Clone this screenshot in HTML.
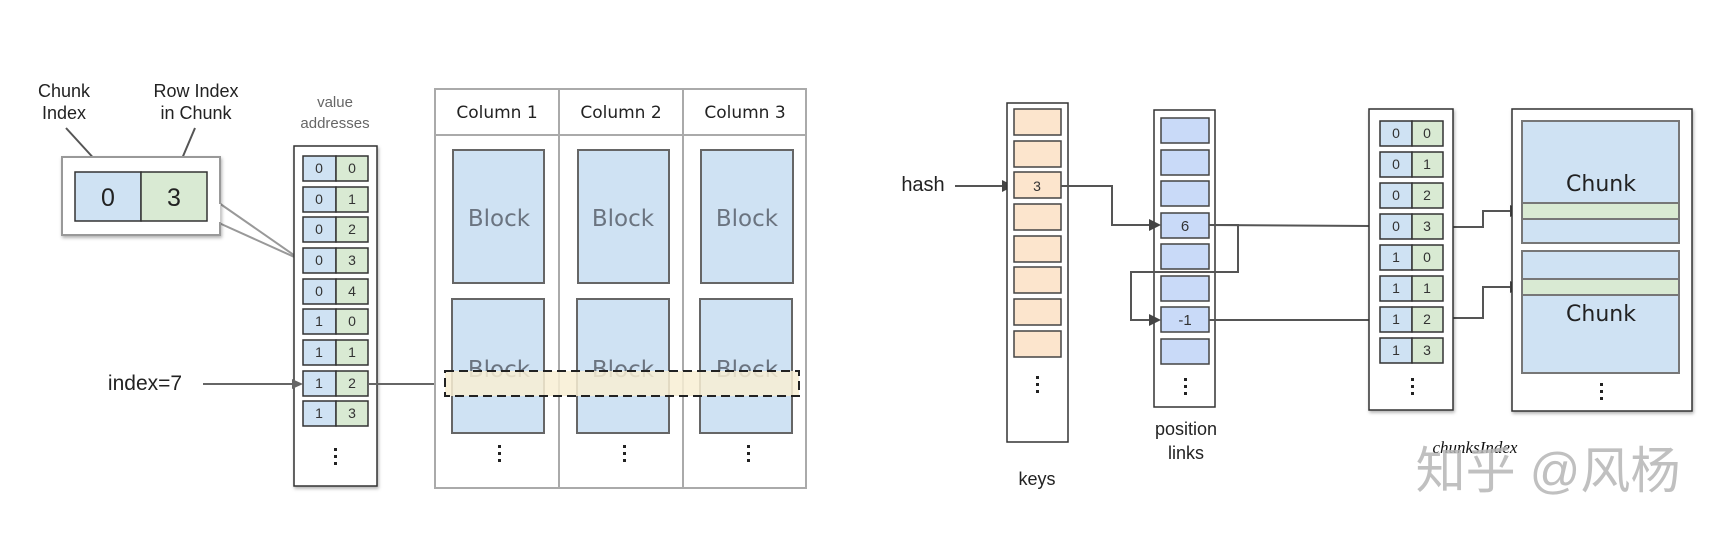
<!DOCTYPE html>
<html><head><meta charset="utf-8"><style>
html,body{margin:0;padding:0;background:#fff;}
svg{display:block;}
text{font-family:"Liberation Sans",Arial,sans-serif;}
</style></head><body>
<svg width="1728" height="538" viewBox="0 0 1728 538" xmlns="http://www.w3.org/2000/svg">
<defs>
<filter id="sh" x="-10%" y="-10%" width="130%" height="130%"><feDropShadow dx="1" dy="2" stdDeviation="1.5" flood-color="#000" flood-opacity="0.3"/></filter>
</defs>

<!-- LEFT DIAGRAM -->
<text x="64" y="97" font-size="18" text-anchor="middle" fill="#222">Chunk</text>
<text x="64" y="119" font-size="18" text-anchor="middle" fill="#222">Index</text>
<text x="196" y="97" font-size="18" text-anchor="middle" fill="#222">Row Index</text>
<text x="196" y="119" font-size="18" text-anchor="middle" fill="#222">in Chunk</text>
<line x1="66" y1="128" x2="98" y2="163" stroke="#555" stroke-width="2"/>
<polygon points="104,170 93.6,166 101,159.3" fill="#555"/>
<line x1="195" y1="128" x2="181" y2="161" stroke="#555" stroke-width="2"/>
<polygon points="177,170 176.3,158.9 185.5,162.8" fill="#555"/>

<polygon points="219,203 301,260 219,223" fill="#fff" stroke="#999" stroke-width="2"/>
<rect x="62" y="157" width="158" height="78" fill="#fff" stroke="#999" stroke-width="2" filter="url(#sh)"/>
<line x1="219" y1="204" x2="219" y2="222" stroke="#fff" stroke-width="3"/>
<rect x="75" y="172" width="66" height="49" fill="#cfe2f3" stroke="#333" stroke-width="1.5"/>
<rect x="141" y="172" width="66" height="49" fill="#d9ead3" stroke="#333" stroke-width="1.5"/>
<text x="108" y="206" font-size="25" text-anchor="middle" fill="#222">0</text>
<text x="174" y="206" font-size="25" text-anchor="middle" fill="#222">3</text>

<text x="335" y="107" font-size="15" text-anchor="middle" fill="#666">value</text>
<text x="335" y="128" font-size="15" text-anchor="middle" fill="#666">addresses</text>
<rect x="294" y="146" width="83" height="340" fill="#fff" stroke="#333" stroke-width="1.5" filter="url(#sh)"/>
<g font-size="14" text-anchor="middle" fill="#333">
<g stroke="#333" stroke-width="1.5">
<rect x="303" y="156" width="33" height="25" fill="#cfe2f3"/><rect x="336" y="156" width="32" height="25" fill="#d9ead3"/>
<rect x="303" y="187" width="33" height="25" fill="#cfe2f3"/><rect x="336" y="187" width="32" height="25" fill="#d9ead3"/>
<rect x="303" y="217" width="33" height="25" fill="#cfe2f3"/><rect x="336" y="217" width="32" height="25" fill="#d9ead3"/>
<rect x="303" y="248" width="33" height="25" fill="#cfe2f3"/><rect x="336" y="248" width="32" height="25" fill="#d9ead3"/>
<rect x="303" y="279" width="33" height="25" fill="#cfe2f3"/><rect x="336" y="279" width="32" height="25" fill="#d9ead3"/>
<rect x="303" y="309" width="33" height="25" fill="#cfe2f3"/><rect x="336" y="309" width="32" height="25" fill="#d9ead3"/>
<rect x="303" y="340" width="33" height="25" fill="#cfe2f3"/><rect x="336" y="340" width="32" height="25" fill="#d9ead3"/>
<rect x="303" y="371" width="33" height="25" fill="#cfe2f3"/><rect x="336" y="371" width="32" height="25" fill="#d9ead3"/>
<rect x="303" y="401" width="33" height="25" fill="#cfe2f3"/><rect x="336" y="401" width="32" height="25" fill="#d9ead3"/>
</g>
<text x="319" y="173">0</text><text x="352" y="173">0</text>
<text x="319" y="204">0</text><text x="352" y="204">1</text>
<text x="319" y="234">0</text><text x="352" y="234">2</text>
<text x="319" y="265">0</text><text x="352" y="265">3</text>
<text x="319" y="296">0</text><text x="352" y="296">4</text>
<text x="319" y="326">1</text><text x="352" y="326">0</text>
<text x="319" y="357">1</text><text x="352" y="357">1</text>
<text x="319" y="388">1</text><text x="352" y="388">2</text>
<text x="319" y="418">1</text><text x="352" y="418">3</text>
</g>
<g fill="#222"><rect x="334" y="448" width="3" height="3"/><rect x="334" y="455" width="3" height="3"/><rect x="334" y="462" width="3" height="3"/></g>

<text x="145" y="390" font-size="21" text-anchor="middle" fill="#222">index=7</text>
<line x1="203" y1="384" x2="293" y2="384" stroke="#666" stroke-width="2"/>
<polygon points="303,384 292,379 292,389" fill="#666"/>
<line x1="368" y1="384" x2="435" y2="384" stroke="#666" stroke-width="2"/>
<polygon points="446,384 435,379 435,389" fill="#666"/>

<!-- table -->
<rect x="435" y="89" width="371" height="399" fill="#fff" stroke="#aaa" stroke-width="2"/>
<line x1="435" y1="135" x2="806" y2="135" stroke="#aaa" stroke-width="2"/>
<line x1="559" y1="89" x2="559" y2="488" stroke="#aaa" stroke-width="2"/>
<line x1="683" y1="89" x2="683" y2="488" stroke="#aaa" stroke-width="2"/>
<g font-size="17" text-anchor="middle" fill="#222">
<text x="497" y="118" style="font-family:'DejaVu Sans',sans-serif">Column 1</text>
<text x="621" y="118" style="font-family:'DejaVu Sans',sans-serif">Column 2</text>
<text x="745" y="118" style="font-family:'DejaVu Sans',sans-serif">Column 3</text>
</g>
<g fill="#cfe2f3" stroke="#666" stroke-width="2">
<rect x="453" y="150" width="91" height="133"/><rect x="578" y="150" width="91" height="133"/><rect x="701" y="150" width="92" height="133"/>
<rect x="452" y="299" width="92" height="134"/><rect x="577" y="299" width="92" height="134"/><rect x="700" y="299" width="92" height="134"/>
</g>
<g font-size="23" text-anchor="middle" fill="#6b7480">
<text x="499" y="226" style="font-family:'DejaVu Sans',sans-serif">Block</text>
<text x="623" y="226" style="font-family:'DejaVu Sans',sans-serif">Block</text>
<text x="747" y="226" style="font-family:'DejaVu Sans',sans-serif">Block</text>
<text x="499" y="377" style="font-family:'DejaVu Sans',sans-serif">Block</text>
<text x="623" y="377" style="font-family:'DejaVu Sans',sans-serif">Block</text>
<text x="747" y="377" style="font-family:'DejaVu Sans',sans-serif">Block</text>
</g>
<rect x="445" y="371" width="354" height="25" fill="#f8efd4" fill-opacity="0.85" stroke="#222" stroke-width="2" stroke-dasharray="9,5"/>
<g fill="#222">
<rect x="498" y="445" width="3" height="3"/><rect x="498" y="452" width="3" height="3"/><rect x="498" y="459" width="3" height="3"/>
<rect x="623" y="445" width="3" height="3"/><rect x="623" y="452" width="3" height="3"/><rect x="623" y="459" width="3" height="3"/>
<rect x="747" y="445" width="3" height="3"/><rect x="747" y="452" width="3" height="3"/><rect x="747" y="459" width="3" height="3"/>
</g>

<!-- RIGHT DIAGRAM -->
<text x="923" y="191" font-size="20" text-anchor="middle" fill="#222">hash</text>
<line x1="955" y1="186" x2="1003" y2="186" stroke="#555" stroke-width="2"/>
<polygon points="1014,186 1002,180 1002,192" fill="#444"/>

<rect x="1007" y="103" width="61" height="339" fill="#fff" stroke="#333" stroke-width="1.5"/>
<g fill="#fce5cd" stroke="#444" stroke-width="1.5">
<rect x="1014" y="109" width="47" height="26"/><rect x="1014" y="141" width="47" height="26"/>
<rect x="1014" y="172" width="47" height="26"/><rect x="1014" y="204" width="47" height="26"/>
<rect x="1014" y="236" width="47" height="26"/><rect x="1014" y="267" width="47" height="26"/>
<rect x="1014" y="299" width="47" height="26"/><rect x="1014" y="331" width="47" height="26"/>
</g>
<text x="1037" y="191" font-size="14" text-anchor="middle" fill="#333">3</text>
<g fill="#222"><rect x="1036" y="376" width="3" height="3"/><rect x="1036" y="383" width="3" height="3"/><rect x="1036" y="390" width="3" height="3"/></g>
<text x="1037" y="485" font-size="18" text-anchor="middle" fill="#222">keys</text>

<rect x="1154" y="110" width="61" height="297" fill="#fff" stroke="#333" stroke-width="1.5"/>
<g fill="#c9daf8" stroke="#444" stroke-width="1.5">
<rect x="1161" y="118" width="48" height="25"/><rect x="1161" y="150" width="48" height="25"/>
<rect x="1161" y="181" width="48" height="25"/><rect x="1161" y="213" width="48" height="25"/>
<rect x="1161" y="244" width="48" height="25"/><rect x="1161" y="276" width="48" height="25"/>
<rect x="1161" y="307" width="48" height="25"/><rect x="1161" y="339" width="48" height="25"/>
</g>
<text x="1185" y="231" font-size="15" text-anchor="middle" fill="#333">6</text>
<text x="1185" y="325" font-size="15" text-anchor="middle" fill="#333">-1</text>
<g fill="#222"><rect x="1184" y="378" width="3" height="3"/><rect x="1184" y="385" width="3" height="3"/><rect x="1184" y="392" width="3" height="3"/></g>
<text x="1186" y="435" font-size="18" text-anchor="middle" fill="#222">position</text>
<text x="1186" y="459" font-size="18" text-anchor="middle" fill="#222">links</text>

<g fill="none" stroke="#555" stroke-width="2">
<polyline points="1061,186 1112,186 1112,225 1150,225"/>
<polyline points="1209,225 1238,225 1238,272 1131,272 1131,320 1150,320"/>
<polyline points="1209,225 1370,226"/>
<polyline points="1209,320 1370,320"/>
<polyline points="1443,227 1483,227 1483,211 1511,211"/>
<polyline points="1443,318 1483,318 1483,287 1511,287"/>
</g>
<g fill="#444">
<polygon points="1161,225 1149,219 1149,231"/>
<polygon points="1161,320 1149,314 1149,326"/>
<polygon points="1381,226 1369,220 1369,232"/>
<polygon points="1381,320 1369,314 1369,326"/>
<polygon points="1522,211 1510,205 1510,217"/>
<polygon points="1522,287 1510,281 1510,293"/>
</g>

<rect x="1369" y="109" width="84" height="301" fill="#fff" stroke="#333" stroke-width="1.5" filter="url(#sh)"/>
<g font-size="14" text-anchor="middle" fill="#333">
<g stroke="#333" stroke-width="1.5">
<rect x="1380" y="121" width="32" height="25" fill="#cfe2f3"/><rect x="1412" y="121" width="31" height="25" fill="#d9ead3"/>
<rect x="1380" y="152" width="32" height="25" fill="#cfe2f3"/><rect x="1412" y="152" width="31" height="25" fill="#d9ead3"/>
<rect x="1380" y="183" width="32" height="25" fill="#cfe2f3"/><rect x="1412" y="183" width="31" height="25" fill="#d9ead3"/>
<rect x="1380" y="214" width="32" height="25" fill="#cfe2f3"/><rect x="1412" y="214" width="31" height="25" fill="#d9ead3"/>
<rect x="1380" y="245" width="32" height="25" fill="#cfe2f3"/><rect x="1412" y="245" width="31" height="25" fill="#d9ead3"/>
<rect x="1380" y="276" width="32" height="25" fill="#cfe2f3"/><rect x="1412" y="276" width="31" height="25" fill="#d9ead3"/>
<rect x="1380" y="307" width="32" height="25" fill="#cfe2f3"/><rect x="1412" y="307" width="31" height="25" fill="#d9ead3"/>
<rect x="1380" y="338" width="32" height="25" fill="#cfe2f3"/><rect x="1412" y="338" width="31" height="25" fill="#d9ead3"/>
</g>
<text x="1396" y="138">0</text><text x="1427" y="138">0</text>
<text x="1396" y="169">0</text><text x="1427" y="169">1</text>
<text x="1396" y="200">0</text><text x="1427" y="200">2</text>
<text x="1396" y="231">0</text><text x="1427" y="231">3</text>
<text x="1396" y="262">1</text><text x="1427" y="262">0</text>
<text x="1396" y="293">1</text><text x="1427" y="293">1</text>
<text x="1396" y="324">1</text><text x="1427" y="324">2</text>
<text x="1396" y="355">1</text><text x="1427" y="355">3</text>
</g>
<g fill="#222"><rect x="1411" y="378" width="3" height="3"/><rect x="1411" y="385" width="3" height="3"/><rect x="1411" y="392" width="3" height="3"/></g>

<rect x="1512" y="109" width="180" height="302" fill="#fff" stroke="#333" stroke-width="1.5" filter="url(#sh)"/>
<rect x="1522" y="121" width="157" height="122" fill="#cfe2f3" stroke="#777" stroke-width="2"/>
<rect x="1522" y="251" width="157" height="122" fill="#cfe2f3" stroke="#777" stroke-width="2"/>
<rect x="1522" y="203" width="157" height="16" fill="#d9ead3" stroke="#777" stroke-width="2"/>
<rect x="1522" y="279" width="157" height="16" fill="#d9ead3" stroke="#777" stroke-width="2"/>
<text x="1601" y="191" font-size="22" text-anchor="middle" fill="#222" style="font-family:'DejaVu Sans',sans-serif">Chunk</text>
<text x="1601" y="321" font-size="22" text-anchor="middle" fill="#222" style="font-family:'DejaVu Sans',sans-serif">Chunk</text>
<g fill="#222"><rect x="1600" y="383" width="3" height="3"/><rect x="1600" y="390" width="3" height="3"/><rect x="1600" y="397" width="3" height="3"/></g>

<text x="1475" y="453" font-size="17" text-anchor="middle" fill="#111" font-style="italic" style="font-family:'Liberation Serif',serif">chunksIndex</text>
<text x="1548" y="488" font-size="50" text-anchor="middle" fill="#b5b5b5" fill-opacity="0.85" style="font-family:'Liberation Sans','Noto Sans CJK SC',sans-serif">知乎 @风杨</text>
</svg>
</body></html>
